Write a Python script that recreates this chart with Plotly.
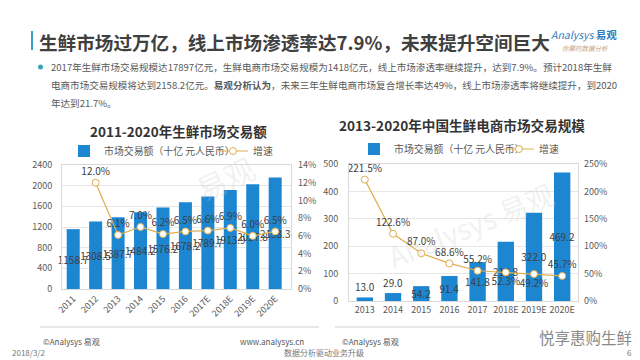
import plotly.graph_objects as go

# ---------------- data ----------------
years_left = ["2011", "2012", "2013", "2014", "2015", "2016", "2017E", "2018E", "2019E", "2020E"]
market_left = [1158.7, 1308.5, 1387.7, 1484.2, 1576.2, 1678.2, 1789.7, 1913.9, 2027.8, 2158.3]
growth_left_years = ["2012", "2013", "2014", "2015", "2016", "2017E", "2018E", "2019E", "2020E"]
growth_left = [12.0, 6.1, 7.0, 6.2, 6.5, 6.6, 6.9, 6.0, 6.5]

years_right = ["2013", "2014", "2015", "2016", "2017", "2018E", "2019E", "2020E"]
market_right = [13.0, 29.0, 54.2, 91.4, 141.8, 215.8, 322.0, 469.2]
growth_right = [221.5, 122.6, 87.0, 68.6, 55.2, 52.3, 49.2, 45.7]

left_ticks = [0, 400, 800, 1200, 1600, 2000, 2400]
left_pct_ticks = [0, 2, 4, 6, 8, 10, 12, 14]
right_ticks = [0, 100, 200, 300, 400, 500]
right_pct_ticks = [0, 50, 100, 150, 200, 250]

bar_name = "市场交易额（十亿 元人民币）"
line_name = "增速"

# ---------------- styles ----------------
W, H = 640, 360
FONT = "Noto Sans CJK SC"
BAR = "#1c86d1"
LINE = "#dfae4f"
TXT = "#404040"
GRID = "#e6e6e6"
BOX = "#d9d9d9"


def px(x):
    return x / W


def py(y):
    return 1 - y / H


fig = go.Figure()

# left chart
fig.add_trace(go.Bar(
    x=years_left, y=market_left, name=bar_name, xaxis="x", yaxis="y",
    marker=dict(color=BAR, line=dict(width=0)),
    text=[f"{v:.1f}" for v in market_left], textposition="inside",
    insidetextanchor="middle", textangle=0, constraintext="none",
    textfont=dict(size=10, color=TXT), cliponaxis=False, legend="legend",
))
fig.add_trace(go.Scatter(
    x=growth_left_years, y=growth_left, name=line_name, xaxis="x", yaxis="y2",
    mode="lines+markers+text", line=dict(color=LINE, width=1.2),
    marker=dict(size=7, color="white", line=dict(color=LINE, width=1)),
    text=[f"{v:.1f}%" for v in growth_left], textposition="top center",
    textfont=dict(size=10, color=TXT), cliponaxis=False, legend="legend",
))

# right chart
right_text_pos = ["outside", "outside", "inside", "inside", "inside", "inside", "inside", "inside"]
fig.add_trace(go.Bar(
    x=years_right, y=market_right, name=bar_name, xaxis="x2", yaxis="y3",
    marker=dict(color=BAR, line=dict(width=0)),
    text=[f"{v:.1f}" for v in market_right], textposition=right_text_pos,
    insidetextanchor="middle", textangle=0, constraintext="none",
    textfont=dict(size=10, color=TXT), cliponaxis=False, legend="legend2",
))
right_line_pos = ["top center"] * 5 + ["bottom center", "bottom center", "top center"]
fig.add_trace(go.Scatter(
    x=years_right, y=growth_right, name=line_name, xaxis="x2", yaxis="y4",
    mode="lines+markers+text", line=dict(color=LINE, width=1.2),
    marker=dict(size=7, color="white", line=dict(color=LINE, width=1)),
    text=[f"{v:.1f}%" for v in growth_right], textposition=right_line_pos,
    textfont=dict(size=10, color=TXT), cliponaxis=False, legend="legend2",
))

tickfont = dict(size=9, color="#595959", family=FONT)
axbase = dict(showline=True, mirror=True, linecolor=BOX, linewidth=1,
              tickfont=tickfont, ticks="", zeroline=False, fixedrange=True)

fig.update_layout(
    width=W, height=H, margin=dict(l=0, r=0, t=0, b=0, autoexpand=False),
    paper_bgcolor="white", plot_bgcolor="white",
    font=dict(family=FONT, color=TXT),
    bargap=0.42, hovermode=False,
    xaxis=dict(domain=[px(62), px(291)], anchor="y", tickangle=-45, showgrid=False, **axbase),
    yaxis=dict(domain=[py(289), py(165)], anchor="x", range=[0, 2400], tickvals=left_ticks,
               showgrid=True, gridcolor=GRID, ticklabelstandoff=7, **axbase),
    yaxis2=dict(overlaying="y", anchor="x", side="right", range=[0, 14], tickvals=left_pct_ticks,
                ticktext=[f"{v}%" for v in left_pct_ticks], showgrid=False, showline=False,
                tickfont=tickfont, ticks="", zeroline=False, ticklabelstandoff=6),
    xaxis2=dict(domain=[px(349), px(578)], anchor="y3", showgrid=False, **axbase),
    yaxis3=dict(domain=[py(301), py(164)], anchor="x2", range=[0, 500], tickvals=right_ticks,
                showgrid=True, gridcolor=GRID, ticklabelstandoff=8, **axbase),
    yaxis4=dict(overlaying="y3", anchor="x2", side="right", range=[0, 250], tickvals=right_pct_ticks,
                ticktext=[f"{v}%" for v in right_pct_ticks], showgrid=False, showline=False,
                tickfont=tickfont, ticks="", zeroline=False, ticklabelstandoff=5),
    legend=dict(orientation="h", x=px(64), y=py(151), xanchor="left", yanchor="middle",
                font=dict(size=9.9, color="#595959"), bgcolor="rgba(0,0,0,0)",
                itemwidth=30, entrywidth=104, traceorder="normal"),
    legend2=dict(orientation="h", x=px(354), y=py(149), xanchor="left", yanchor="middle",
                 font=dict(size=9.9, color="#595959"), bgcolor="rgba(0,0,0,0)",
                 itemwidth=30, entrywidth=100, traceorder="normal"),
    showlegend=True,
)

ann = []


def text(x, y, s, size, color=TXT, xanchor="left", bold=False, **kw):
    ann.append(dict(x=px(x), y=py(y), xref="paper", yref="paper", text=(f"<b>{s}</b>" if bold else s),
                    showarrow=False, xanchor=xanchor, yanchor="middle",
                    font=dict(size=size, color=color, family=FONT), **kw))


# header
text(37, 41, "生鲜市场过万亿，线上市场渗透率达7.9%，未来提升空间巨大", 18.6, "#404040", bold=True)
text(549, 35, "<i>Analysys</i> <b>易观</b>", 10.5, "#2f7cc0")
text(560, 48, "<i>你要的数据分析</i>", 6.5, "#c9a27a")

# bullet text
BT = 9.55
text(49, 67, "2017年生鲜市场交易规模达17897亿元，生鲜电商市场交易规模为1418亿元，线上市场渗透率继续提升，达到7.9%。预计2018年生鲜", BT, "#595959")
text(49, 85, "电商市场交易规模将达到2158.2亿元。<b>易观分析认为</b>，未来三年生鲜电商市场复合增长率达49%，线上市场渗透率将继续提升，到2020", BT, "#595959")
text(49, 103, "年达到21.7%。", BT, "#595959")

# chart titles
text(178, 131, "2011-2020年生鲜市场交易额", 13.5, "#333333", xanchor="center", bold=True)
text(462, 125, "2013-2020年中国生鲜电商市场交易规模", 13.6, "#333333", xanchor="center", bold=True)

# faint watermarks
text(225, 178, "易观", 30, "rgba(200,200,200,0.25)", xanchor="center", textangle=-25)
text(470, 225, "Analysys 易观", 28, "rgba(200,200,200,0.25)", xanchor="center", textangle=-22)

# footer
text(41, 341, "©Analysys 易观", 8, "#555555")
text(306, 341, "www.analysys.cn", 8, "#555555", xanchor="right")
text(340, 341, "©Analysys 易观", 8, "#555555")
text(10, 352, "2018/3/2", 8, "#777777")
text(324, 352, "数据分析驱动业务升级", 8, "#777777", xanchor="center")
text(634, 352, "6", 8, "#777777", xanchor="right")
text(585, 337, "悦享惠购生鲜", 15.5, "#8a8a8a", xanchor="center")

fig.update_layout(annotations=ann)

shapes = [
    dict(type="rect", xref="paper", yref="paper", x0=px(31), x1=px(33), y0=py(50), y1=py(31),
         fillcolor="#39a0c8", line=dict(width=0)),
    dict(type="circle", xref="paper", yref="paper", x0=px(38), x1=px(43), y0=py(69.5), y1=py(64.5),
         fillcolor="#3aa3b8", line=dict(width=0)),
    dict(type="line", xref="paper", yref="paper", x0=px(40), x1=px(319), y0=py(327), y1=py(327),
         line=dict(color="#d0d0d0", width=1)),
    dict(type="line", xref="paper", yref="paper", x0=px(335), x1=px(520), y0=py(327), y1=py(327),
         line=dict(color="#d0d0d0", width=1)),
]
fig.update_layout(shapes=shapes)

fig.write_html("out.html", config={"displayModeBar": False},
               post_script="document.body.style.margin='0';document.body.style.padding='0';")
